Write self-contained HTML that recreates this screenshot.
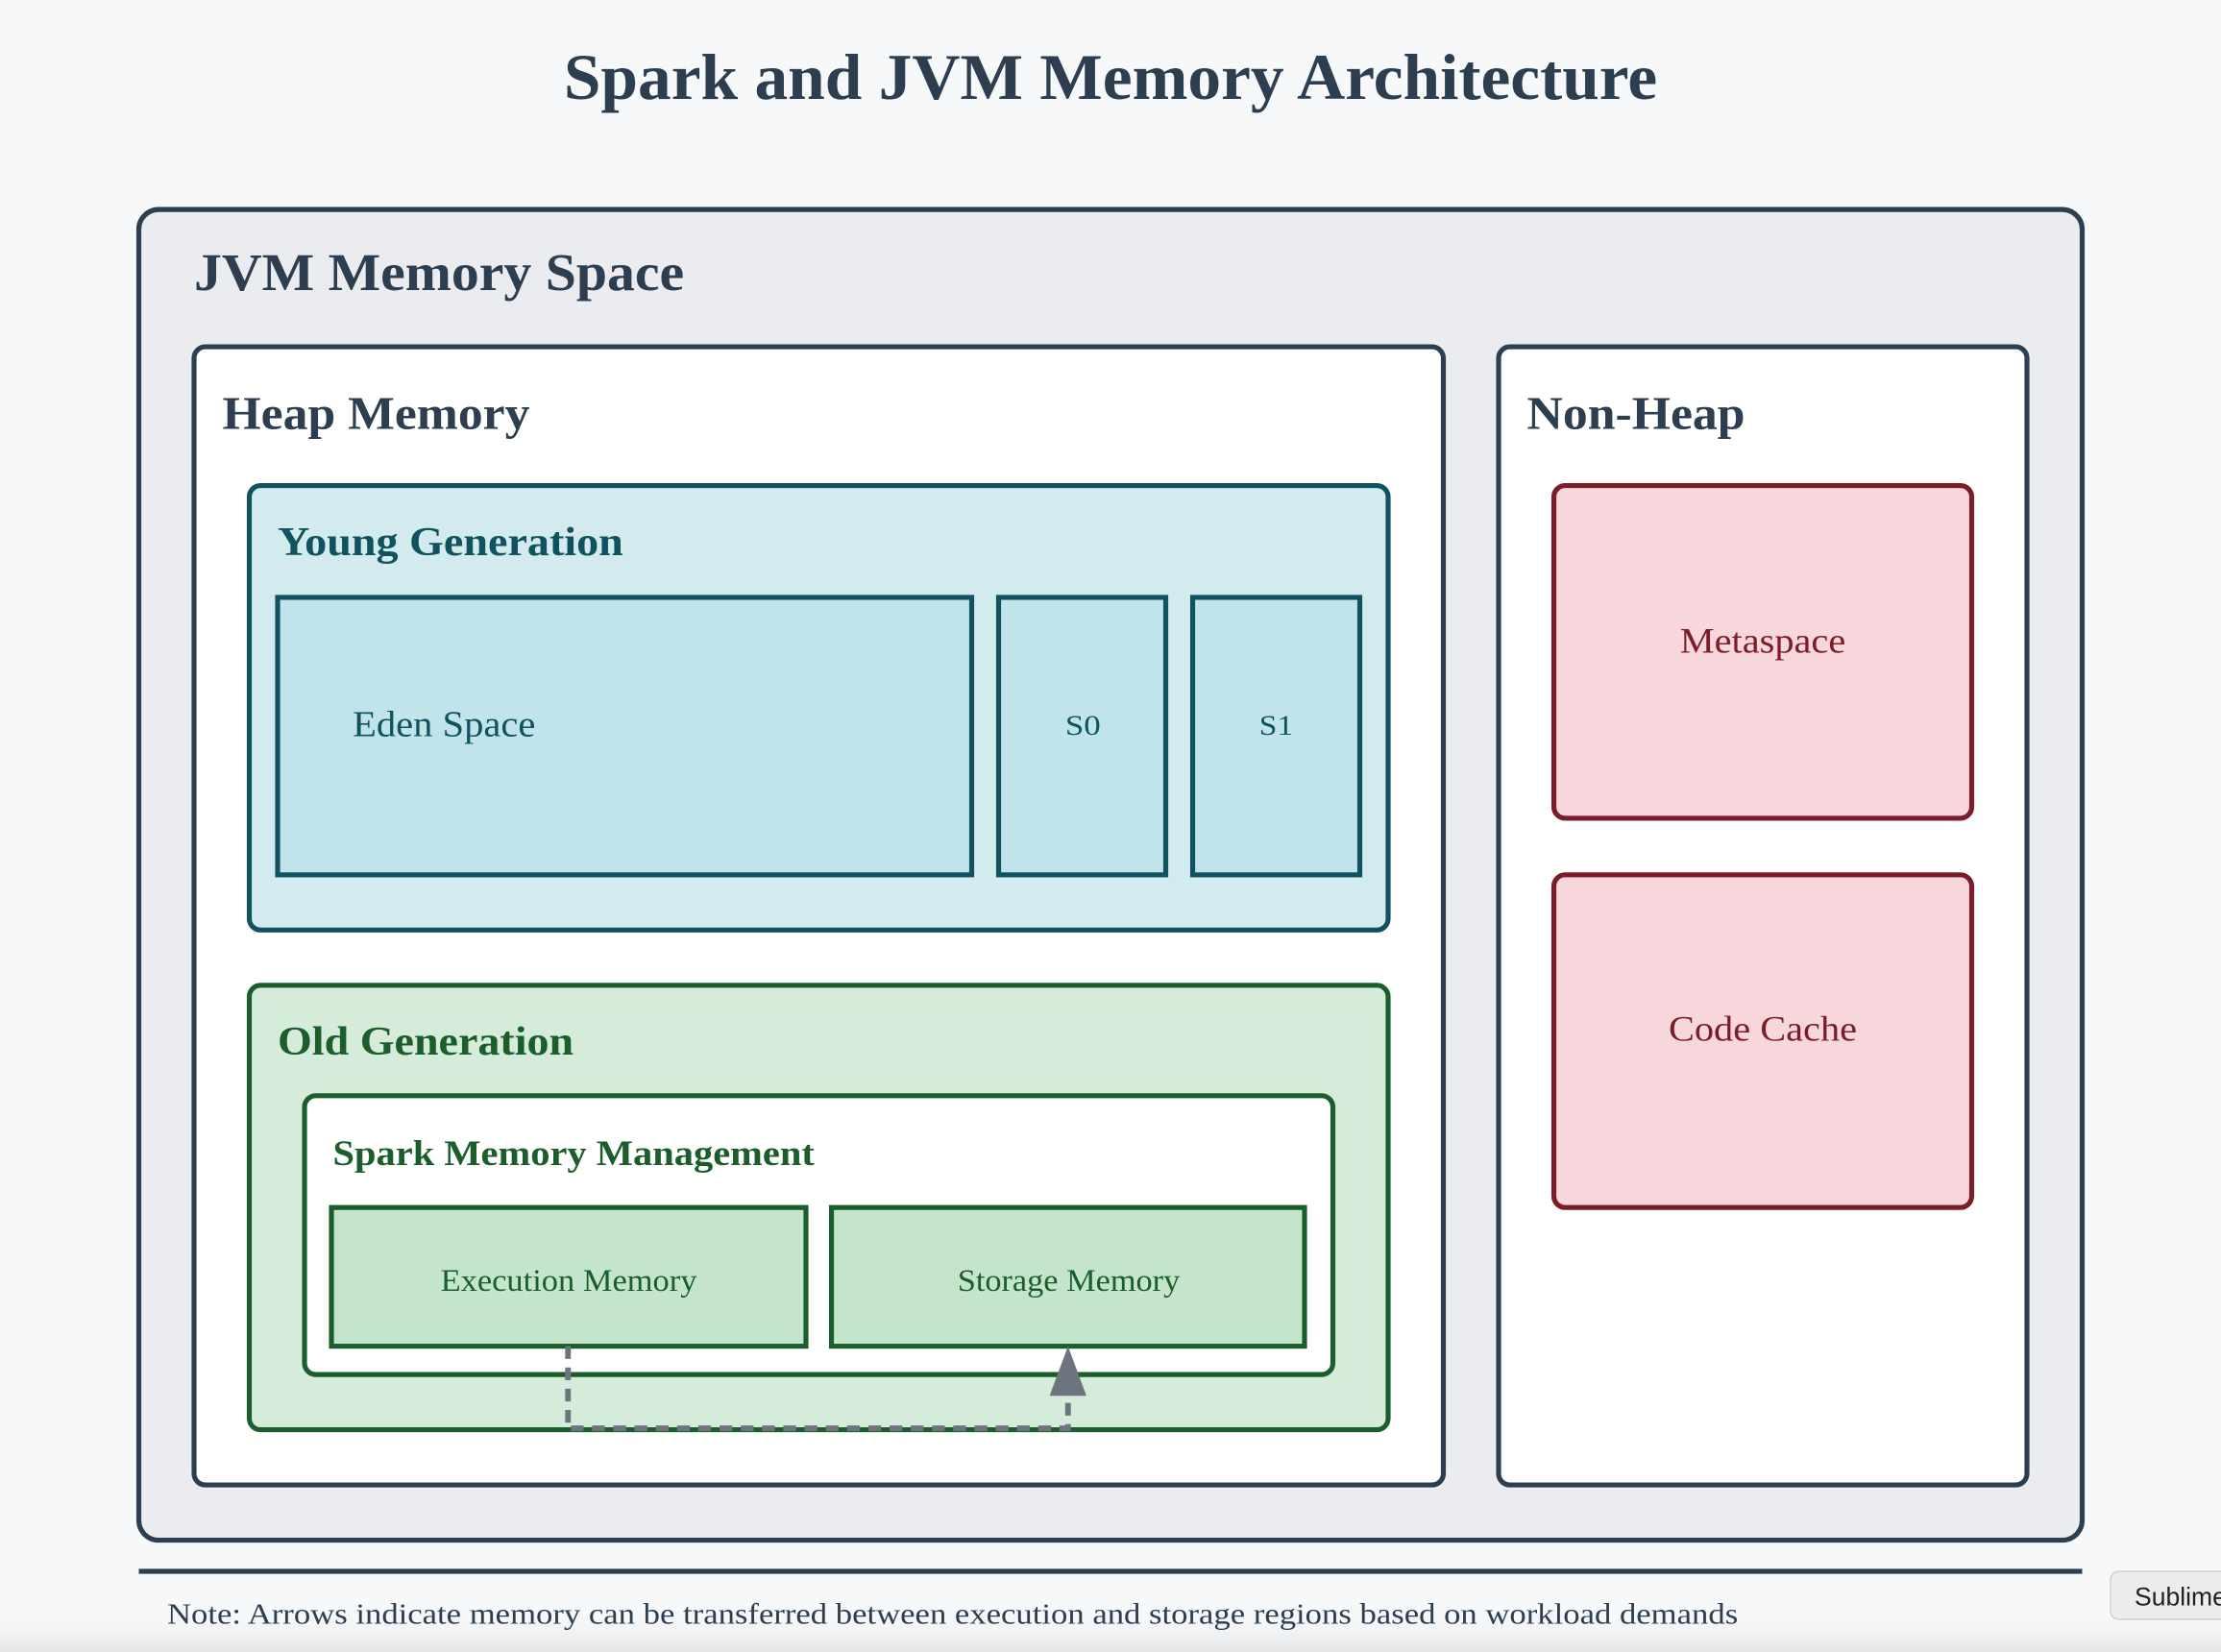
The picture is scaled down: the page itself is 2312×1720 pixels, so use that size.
<!DOCTYPE html>
<html><head><meta charset="utf-8"><style>
html,body{margin:0;padding:0;background:#f7f8fa;}
svg{display:block;}
text{font-family:"Liberation Serif",serif;}
</style></head><body>
<svg width="2312" height="1720" viewBox="0 0 1568 1167" preserveAspectRatio="none">
<defs><linearGradient id="g" x1="0" y1="0" x2="0" y2="1"><stop offset="0" stop-color="#f7f8fa" stop-opacity="0"/><stop offset="1" stop-color="#e4e5e7"/></linearGradient></defs>
<rect width="1568" height="1167" fill="#f7f8fa"/>
<rect x="0" y="1135" width="1568" height="32" fill="url(#g)"/>
<text x="398" y="70" textLength="772" lengthAdjust="spacingAndGlyphs" font-size="46" font-weight="bold" fill="#2c3e50">Spark and JVM Memory Architecture</text>
<rect x="98" y="148" width="1372" height="940" rx="14" fill="#ebecf0" stroke="#2c3e50" stroke-width="3.5"/>
<text x="137" y="205" textLength="346" lengthAdjust="spacingAndGlyphs" font-size="37" font-weight="bold" fill="#2c3e50">JVM Memory Space</text>
<rect x="137" y="245" width="882" height="804" rx="8" fill="#fff" stroke="#2c3e50" stroke-width="3.5"/>
<text x="157" y="303" textLength="217" lengthAdjust="spacingAndGlyphs" font-size="33" font-weight="bold" fill="#2c3e50">Heap Memory</text>
<rect x="1058" y="245" width="373" height="804" rx="8" fill="#fff" stroke="#2c3e50" stroke-width="3.5"/>
<text x="1078" y="303" textLength="154" lengthAdjust="spacingAndGlyphs" font-size="33" font-weight="bold" fill="#2c3e50">Non-Heap</text>
<rect x="176" y="343" width="804" height="314" rx="8" fill="#d3ebef" stroke="#10525e" stroke-width="3.5"/>
<text x="196" y="392" textLength="244" lengthAdjust="spacingAndGlyphs" font-size="29" font-weight="bold" fill="#10525e">Young Generation</text>
<rect x="196" y="422" width="490" height="196" fill="#c0e4ea" stroke="#10525e" stroke-width="3.5"/>
<text x="249" y="520" textLength="129" lengthAdjust="spacingAndGlyphs" font-size="26" fill="#10525e">Eden Space</text>
<rect x="705" y="422" width="118" height="196" fill="#c0e4ea" stroke="#10525e" stroke-width="3.5"/>
<text x="752" y="519" textLength="25" lengthAdjust="spacingAndGlyphs" font-size="20" fill="#10525e">S0</text>
<rect x="842" y="422" width="118" height="196" fill="#c0e4ea" stroke="#10525e" stroke-width="3.5"/>
<text x="889" y="519" textLength="24" lengthAdjust="spacingAndGlyphs" font-size="20" fill="#10525e">S1</text>
<rect x="176" y="696" width="804" height="314" rx="8" fill="#d5ecda" stroke="#1b5e2b" stroke-width="3.5"/>
<text x="196" y="745" textLength="209" lengthAdjust="spacingAndGlyphs" font-size="29" font-weight="bold" fill="#1b5e2b">Old Generation</text>
<rect x="215" y="774" width="726" height="197" rx="8" fill="#fff" stroke="#1b5e2b" stroke-width="3.5"/>
<text x="235" y="823" textLength="340" lengthAdjust="spacingAndGlyphs" font-size="25" font-weight="bold" fill="#1b5e2b">Spark Memory Management</text>
<rect x="234" y="853" width="335" height="98" fill="#c4e4cb" stroke="#1b5e2b" stroke-width="3.5"/>
<text x="311" y="912" textLength="181" lengthAdjust="spacingAndGlyphs" font-size="22" fill="#1b5e2b">Execution Memory</text>
<rect x="587" y="853" width="334" height="98" fill="#c4e4cb" stroke="#1b5e2b" stroke-width="3.5"/>
<text x="676" y="912" textLength="157" lengthAdjust="spacingAndGlyphs" font-size="22" fill="#1b5e2b">Storage Memory</text>
<path d="M401 951 V1009 H754 V985" fill="none" stroke="#6c757d" stroke-width="4" stroke-dasharray="9,6"/>
<polygon points="754,951 741,986 767,986" fill="#6c757d"/>
<rect x="1097" y="343" width="295" height="235" rx="8" fill="#f8d7dc" stroke="#7b1c28" stroke-width="3.5"/>
<text x="1186" y="461" textLength="117" lengthAdjust="spacingAndGlyphs" font-size="25" fill="#7b1c28">Metaspace</text>
<rect x="1097" y="618" width="295" height="235" rx="8" fill="#f8d7dc" stroke="#7b1c28" stroke-width="3.5"/>
<text x="1178" y="735" textLength="133" lengthAdjust="spacingAndGlyphs" font-size="25" fill="#7b1c28">Code Cache</text>
<line x1="98" y1="1110" x2="1470" y2="1110" stroke="#2c3e50" stroke-width="3.5"/>
<text x="118" y="1147" textLength="1109" lengthAdjust="spacingAndGlyphs" font-size="21" fill="#2c3e50">Note: Arrows indicate memory can be transferred between execution and storage regions based on workload demands</text>
<rect x="1490" y="1110" width="90" height="34" rx="6" fill="#ececec" stroke="#d0d0d0"/>
<text x="1507" y="1134" font-size="18" fill="#222" style="font-family:'Liberation Sans',sans-serif">Sublime</text>
</svg>
</body></html>
